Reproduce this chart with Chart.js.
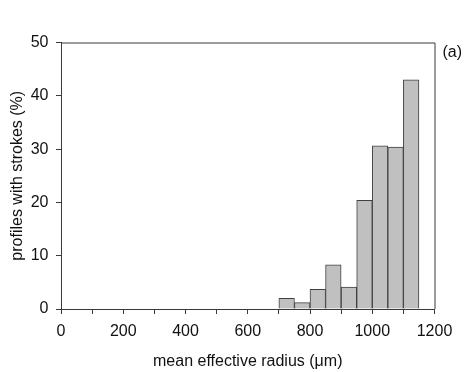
<!DOCTYPE html>
<html>
<head>
<meta charset="utf-8">
<script src="https://cdn.jsdelivr.net/npm/chart.js@4"></script>
<style>
  html, body { margin: 0; padding: 0; background: #ffffff; }
  #wrap { width: 474px; height: 372px; position: relative; }
</style>
</head>
<body>
<div id="wrap"><canvas id="c" width="474" height="372"></canvas></div>
<script>
// Bin centres (µm) and percentage of profiles with strokes
const binCenters = [725, 775, 825, 875, 925, 975, 1025, 1075, 1125];
const percentages = [2.0, 1.2, 3.7, 8.3, 4.1, 20.4, 30.6, 30.4, 43.0];
const xTickStep = 100;
const xLabelStep = 200;
const yTicks = [0, 10, 20, 30, 40, 50];
const xTitle = 'mean effective radius (\u03bcm)';
const yTitle = 'profiles with strokes (%)';
const panelLabel = '(a)';

const FONT = "'Liberation Sans', Arial, sans-serif";
const AXIS = '#3a3a3a';

const boxPlugin = {
  id: 'boxAndLabel',
  afterDraw(chart) {
    const { ctx, chartArea: a } = chart;
    ctx.save();
    ctx.strokeStyle = AXIS;
    ctx.lineWidth = 1;
    ctx.beginPath();
    ctx.moveTo(a.left, a.top + 0.5);
    ctx.lineTo(a.right + 0.5, a.top + 0.5);
    ctx.lineTo(a.right + 0.5, a.bottom);
    ctx.stroke();
    ctx.fillStyle = '#111';
    ctx.font = '16px ' + FONT;
    ctx.textBaseline = 'middle';
    ctx.textAlign = 'left';
    ctx.fillText(panelLabel, a.right + 8, a.top + 10);
    ctx.restore();
  }
};

new Chart(document.getElementById('c'), {
  type: 'bar',
  data: {
    datasets: [{
      data: binCenters.map((x, i) => ({ x: x, y: percentages[i] })),
      backgroundColor: '#c0c0c0',
      borderColor: '#404040',
      borderWidth: 1,
      barPercentage: 1,
      categoryPercentage: 1
    }]
  },
  options: {
    responsive: false,
    animation: false,
    layout: { padding: { left: 0, right: 39.5, top: 42.5, bottom: 0 } },
    plugins: { legend: { display: false }, tooltip: { enabled: false } },
    scales: {
      x: {
        type: 'linear',
        min: 0, max: 1200,
        offset: false,
        afterFit: s => { s.height = 63; },
        ticks: {
          stepSize: xTickStep,
          autoSkip: false,
          maxRotation: 0,
          padding: 8,
          color: '#111',
          font: { family: FONT, size: 16 },
          callback: v => (v % xLabelStep === 0 ? String(v) : '')
        },
        grid: { offset: false, drawOnChartArea: false, drawTicks: true, tickLength: 5, color: AXIS },
        border: { display: true, color: AXIS, width: 1 },
        title: {
          display: true, text: xTitle, color: '#111',
          font: { family: FONT, size: 16 },
          padding: { top: 0, bottom: 1 }
        }
      },
      y: {
        min: 0, max: 50,
        afterFit: s => { s.width = 61; },
        afterBuildTicks: s => { s.ticks = yTicks.map(v => ({ value: v })); },
        ticks: {
          padding: 7.5,
          color: '#111',
          font: { family: FONT, size: 16 }
        },
        grid: { offset: false, drawOnChartArea: false, drawTicks: true, tickLength: 5, color: AXIS },
        border: { display: true, color: AXIS, width: 1 },
        title: {
          display: true, text: yTitle, color: '#111',
          font: { family: FONT, size: 16 },
          padding: { top: 8.4, bottom: 0 }
        }
      }
    }
  },
  plugins: [boxPlugin]
});
</script>
</body>
</html>
